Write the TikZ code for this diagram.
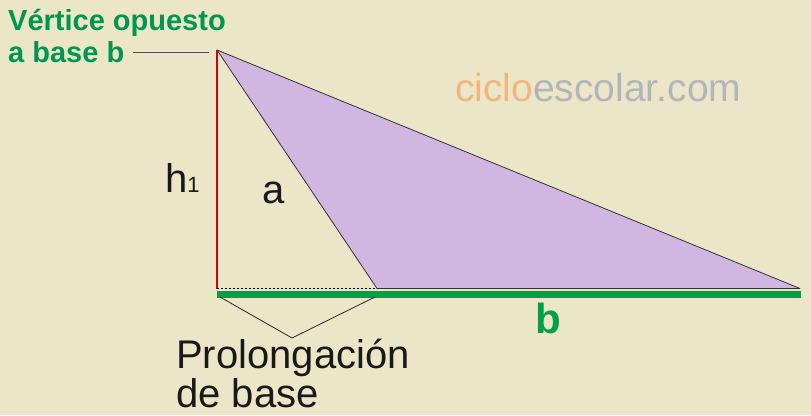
\documentclass[tikz,border=0pt]{standalone}
\usepackage{fontspec}
\setmainfont{Liberation Sans}
\definecolor{paper}{RGB}{236, 230, 200}
\definecolor{lilac}{RGB}{210, 182, 226}
\definecolor{basegreen}{RGB}{0, 160, 72}
\definecolor{labelgreen}{RGB}{0, 150, 80}
\definecolor{weborange}{RGB}{240, 182, 124}
\definecolor{webgrey}{RGB}{178, 182, 186}
\tikzstyle{sketch} = [
  x=1pt,
  y=-1pt,
  inner sep=0pt,
  line join=round,
]
\tikzstyle{bigtext} = [font=\fontsize{40}{39}\selectfont, text=black!90]

\begin{document}
\begin{tikzpicture}[sketch]
            \fill[paper] (0,0) rectangle (811,415);
            \useasboundingbox (0,0) rectangle (811,415);

            \coordinate (V) at (217,50);
            \coordinate (A) at (377,288.5);
            \coordinate (C) at (800,288.5);
            \coordinate (H) at (217,288.5);

            % Triangle
            \draw[fill=lilac, draw=black!80, line width=0.8pt] (V) -- (A) -- (C) -- cycle;

            % Height and prolongation
            \draw[red!85!black, line width=1.6pt] (V) -- (H);
            \draw[black, line width=1.4pt, dash pattern=on 2pt off 2pt] (H) -- (A);

            % Base b
            \draw[basegreen, line width=7pt] (217,294.5) -- (801,294.5);

            % Labels
            \node[anchor=base west, align=left, text=labelgreen,
              font=\fontsize{29}{32}\selectfont\bfseries] (vertex) at (8,62)
              {Vértice opuesto\\a base b};
            \coordinate (vtip) at (209,52);
            \draw[black!70, line width=0.8pt] (133,52) -- (vtip);

            \node[bigtext, anchor=base west] (h) at (165,192)
              {h{\fontsize{22}{24}\selectfont 1}};
            \node[bigtext, anchor=base west] (a) at (262,203) {a};
            \node[anchor=base west, text=basegreen,
              font=\fontsize{42}{44}\selectfont\bfseries] (b) at (535,333) {b};

            \node[anchor=base west, font=\fontsize{39}{40}\selectfont] (web) at (455,101)
              {\textcolor{weborange}{ciclo}\textcolor{webgrey}{escolar.com}};

            % Prolongation note
            \coordinate (p1) at (220,297);
            \coordinate (p2) at (375,297);
            \coordinate (pm) at (292,338);
            \draw[black!85, line width=0.8pt] (p1) -- (pm) -- (p2);
            \node[bigtext, anchor=base west, align=left] (note) at (176,407)
              {Prolongación\\de base};
          \end{tikzpicture}
\end{document}
